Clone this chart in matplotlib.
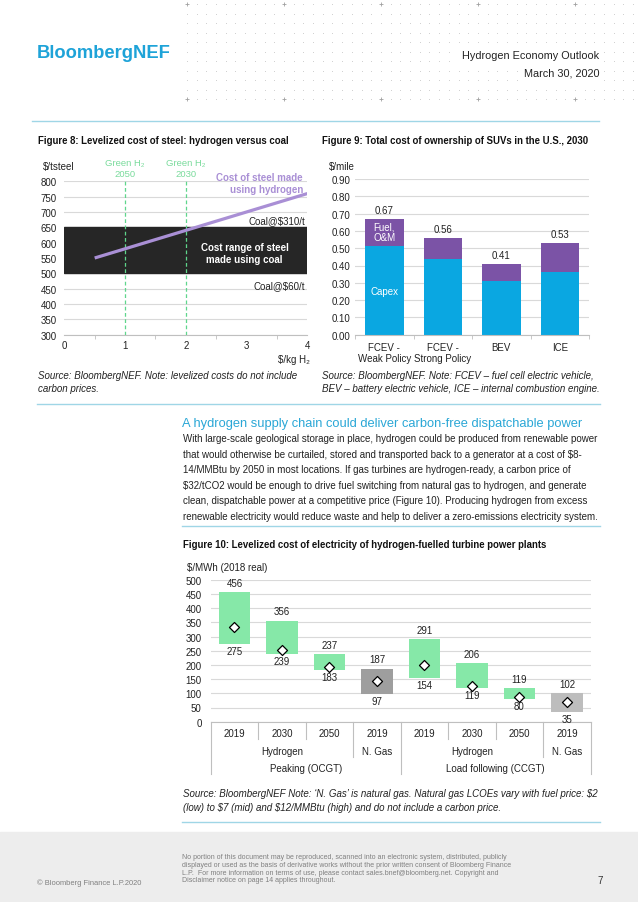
import numpy as np
import matplotlib
matplotlib.use('Agg')
import matplotlib.pyplot as plt
from matplotlib.patches import Rectangle

plt.rcParams['font.family'] = ['Liberation Sans', 'DejaVu Sans']

###### Data ######
# Figure 8 - steel cost vs hydrogen price
h2_price = [0.5, 1, 2, 3, 4]
steel_h2 = [550, 580, 640, 700, 760]
coal_low, coal_high = 500, 650
green_h2_x = [1, 2]
green_h2_lbl = ['Green H\u2082\n2050', 'Green H\u2082\n2030']

# Figure 9 - SUV total cost of ownership
suv_cats = ['FCEV -\nWeak Policy', 'FCEV -\nStrong Policy', 'BEV', 'ICE']
suv_capex = [0.51, 0.44, 0.31, 0.36]
suv_fuel = [0.16, 0.12, 0.10, 0.17]

# Figure 10 - LCOE of turbine plants
lcoe_years = ['2019', '2030', '2050', '2019', '2019', '2030', '2050', '2019']
lcoe_fuel = ['Hydrogen', 'N. Gas', 'Hydrogen', 'N. Gas']
lcoe_mode = ['Peaking (OCGT)', 'Load following (CCGT)']
lcoe_low = [275, 239, 183, 97, 154, 119, 80, 35]
lcoe_high = [456, 356, 237, 187, 291, 206, 119, 102]
lcoe_mid = [333, 251, 192, 142, 200, 127, 86, 70]

body_lines = [
    'With large-scale geological storage in place, hydrogen could be produced from renewable power',
    'that would otherwise be curtailed, stored and transported back to a generator at a cost of \\$8-',
    '14/MMBtu by 2050 in most locations. If gas turbines are hydrogen-ready, a carbon price of',
    '\\$32/tCO2 would be enough to drive fuel switching from natural gas to hydrogen, and generate',
    'clean, dispatchable power at a competitive price (Figure 10). Producing hydrogen from excess',
    'renewable electricity would reduce waste and help to deliver a zero-emissions electricity system.',
]
disclaimer = [
    'No portion of this document may be reproduced, scanned into an electronic system, distributed, publicly',
    'displayed or used as the basis of derivative works without the prior written consent of Bloomberg Finance',
    'L.P.  For more information on terms of use, please contact sales.bnef@bloomberg.net. Copyright and',
    'Disclaimer notice on page 14 applies throughout.',
]

###### Styles ######
W, H = 638, 903
CYAN_LINE = '#9fd6e6'
GRID = '#d9d9d9'
TXT = '#222222'
bar_colors = ['#86e8a8'] * 3 + ['#9e9e9e'] + ['#86e8a8'] * 3 + ['#bdbdbd']

fig = plt.figure(figsize=(W / 100, H / 100), dpi=100)

# page layer in pixel coords
page = fig.add_axes([0, 0, 1, 1], zorder=-1)
page.set_xlim(0, W)
page.set_ylim(H, 0)
page.axis('off')


def px_axes(l, t, r, b):
    return fig.add_axes([l / W, 1 - b / H, (r - l) / W, (b - t) / H])


def hline(y, x0, x1):
    page.plot([x0, x1], [y, y], color=CYAN_LINE, lw=1)


# header
gx = np.arange(187, W, 9.7)
gy = np.arange(5, 101, 9.5)
GX, GY = np.meshgrid(gx, gy)
page.scatter(GX.ravel(), GY.ravel(), s=0.5, color='#cfcfcf', linewidths=0)
page.scatter(GX[[0, -1], ::10].ravel(), GY[[0, -1], ::10].ravel(), s=6, marker='+',
             color='#a0a0a0', linewidths=0.6)
page.text(37, 53, 'BloombergNEF', fontsize=13.2, fontweight='bold', color='#1ea3d8', va='center')
hdr_box = dict(facecolor='white', edgecolor='none', pad=3)
page.text(599, 55.7, 'Hydrogen Economy Outlook', ha='right', va='center', fontsize=7.8,
          color=TXT, bbox=hdr_box)
page.text(599, 73.3, 'March 30, 2020', ha='right', va='center', fontsize=7.8, color=TXT,
          bbox=hdr_box)
hline(121.7, 32, 599)

# titles and sources
title_kw = dict(fontsize=6.9, fontweight='bold', va='center', color='#111111')
src_kw = dict(fontsize=7.0, style='italic', va='center', color=TXT)
page.text(38, 140.7, 'Figure 8: Levelized cost of steel: hydrogen versus coal', **title_kw)
page.text(322, 140.7, 'Figure 9: Total cost of ownership of SUVs in the U.S., 2030', **title_kw)
page.text(38, 376.5, 'Source: BloombergNEF. Note: levelized costs do not include', **src_kw)
page.text(38, 389.5, 'carbon prices.', **src_kw)
page.text(322, 376.5, 'Source: BloombergNEF. Note: FCEV \u2013 fuel cell electric vehicle,', **src_kw)
page.text(322, 389.5, 'BEV \u2013 battery electric vehicle, ICE \u2013 internal combustion engine.', **src_kw)
hline(405, 37, 600)

page.text(182, 424, 'A hydrogen supply chain could deliver carbon-free dispatchable power',
          fontsize=9.3, color='#2aa7d6', va='center')
for i, line in enumerate(body_lines):
    page.text(183, 439 + i * 15.6, line, fontsize=7.0, color=TXT, va='center')
hline(527, 182, 600)

page.text(183, 545, 'Figure 10: Levelized cost of electricity of hydrogen-fuelled turbine power plants',
          **title_kw)
page.text(183, 794.3, 'Source: BloombergNEF Note: \u2018N. Gas\u2019 is natural gas. Natural gas LCOEs vary '
          'with fuel price: \\$2', **src_kw)
page.text(183, 807.7, '(low) to \\$7 (mid) and \\$12/MMBtu (high) and do not include a carbon price.',
          **src_kw)
hline(823.3, 182, 600)

# footer
page.add_patch(Rectangle((0, 833), W, H - 833, color='#ededed', zorder=0))
page.text(37, 883, '\u00a9 Bloomberg Finance L.P.2020', fontsize=5.4, color='#7f7f7f', va='center')
for i, line in enumerate(disclaimer):
    page.text(182, 857.7 + i * 7.7, line, fontsize=5.0, color='#7f7f7f', va='center')
page.text(597, 881, '7', fontsize=7, color='#333333', va='center')

###### Figure 8 ######
ax8 = px_axes(64.3, 182.3, 307.3, 335.7)
ax8.set_xlim(0, 4)
ax8.set_ylim(300, 800)
ax8.set_yticks(range(300, 801, 50))
ax8.set_xticks(range(0, 5))
ax8.set_xticks(np.arange(0.5, 4, 1), minor=True)
ax8.grid(axis='y', color=GRID, lw=0.8, zorder=0)
ax8.set_axisbelow(True)
for s in ['top', 'right', 'left']:
    ax8.spines[s].set_visible(False)
ax8.spines['bottom'].set_color('#bfbfbf')
ax8.tick_params(axis='y', length=0, pad=5.5, labelsize=7, labelcolor=TXT)
ax8.tick_params(axis='x', which='major', length=0, pad=4, labelsize=7, labelcolor=TXT)
ax8.tick_params(axis='x', which='minor', length=3, color='#bfbfbf')
ax8.axhspan(coal_low, coal_high, color='#262626', zorder=2)
for x, lbl in zip(green_h2_x, green_h2_lbl):
    ax8.axvline(x, color='#5fd68c', ls=(0, (3, 2)), lw=0.9, zorder=3)
    ax8.text(x, 812, lbl, ha='center', va='bottom', color='#7adb9c', fontsize=6.8,
             linespacing=1.25, clip_on=False)
ax8.plot(h2_price, steel_h2, color='#a98fd5', lw=2.3, zorder=4, solid_capstyle='butt')
ax8.text(3.93, 795, 'Cost of steel made\nusing hydrogen', ha='right', va='center',
         color='#a98fd5', fontsize=7, fontweight='bold', linespacing=1.2, clip_on=False)
ax8.text(3.97, 675, 'Coal@\\$310/t', ha='right', va='center', fontsize=7, color=TXT)
ax8.text(3.97, 462, 'Coal@\\$60/t', ha='right', va='center', fontsize=7, color=TXT)
ax8.text(2.97, 566, 'Cost range of steel\nmade using coal', ha='center', va='center',
         color='white', fontsize=7, fontweight='bold', linespacing=1.25, zorder=5)
page.text(42.5, 166.7, '\\$/tsteel', fontsize=7, va='center', color=TXT)
page.text(310, 360, '\\$/kg H\u2082', fontsize=7, va='center', ha='right', color=TXT)

###### Figure 9 ######
ax9 = px_axes(355, 180, 589.3, 335.7)
x9 = np.arange(len(suv_cats))
ax9.bar(x9, suv_capex, width=0.66, color='#0aa7e1', zorder=2)
ax9.bar(x9, suv_fuel, width=0.66, bottom=suv_capex, color='#7b53a6', zorder=2)
for i in x9:
    tot = suv_capex[i] + suv_fuel[i]
    ax9.annotate('%.2f' % tot, (i, tot), xytext=(0, 3), textcoords='offset points',
                 ha='center', va='bottom', fontsize=7, color=TXT)
ax9.text(0, 0.595, 'Fuel,\nO&M', ha='center', va='center', color='white', fontsize=7,
         linespacing=1.15, zorder=3)
ax9.text(0, 0.254, 'Capex', ha='center', va='center', color='white', fontsize=7, zorder=3)
ax9.set_xlim(-0.5, 3.5)
ax9.set_ylim(0, 0.9)
ax9.set_yticks(np.arange(0, 0.91, 0.1))
ax9.set_yticklabels(['%.2f' % v for v in np.arange(0, 0.91, 0.1)])
ax9.set_xticks(x9)
ax9.set_xticklabels(suv_cats)
ax9.set_xticks(np.arange(-0.5, 3.6, 1), minor=True)
ax9.grid(axis='y', color=GRID, lw=0.8, zorder=0)
ax9.set_axisbelow(True)
for s in ['top', 'right', 'left']:
    ax9.spines[s].set_visible(False)
ax9.spines['bottom'].set_color('#bfbfbf')
ax9.tick_params(axis='y', length=0, pad=3, labelsize=7, labelcolor=TXT)
ax9.tick_params(axis='x', which='major', length=0, pad=5, labelsize=7, labelcolor=TXT)
ax9.tick_params(axis='x', which='minor', length=3, color='#bfbfbf')
for lab in ax9.get_xticklabels():
    lab.set_linespacing(1.15)
page.text(329, 166.7, '\\$/mile', fontsize=7, va='center', color=TXT)

###### Figure 10 ######
ax10 = px_axes(210.7, 580.7, 590.7, 722.7)
x10 = np.arange(len(lcoe_years))
span = np.array(lcoe_high) - np.array(lcoe_low)
ax10.bar(x10, span, bottom=lcoe_low, width=0.67, color=bar_colors, zorder=2)
ax10.scatter(x10, lcoe_mid, marker='D', s=26, facecolor='white', edgecolor='black',
             linewidths=0.9, zorder=4)
for i in x10:
    ax10.annotate(str(lcoe_high[i]), (i, lcoe_high[i]), xytext=(0, 3), textcoords='offset points',
                  ha='center', va='bottom', fontsize=7, color=TXT)
    ax10.annotate(str(lcoe_low[i]), (i, lcoe_low[i]), xytext=(0, -1.5), textcoords='offset points',
                  ha='center', va='top', fontsize=7, color=TXT, zorder=5)
ax10.set_xlim(-0.5, len(x10) - 0.5)
ax10.set_ylim(0, 500)
ax10.set_yticks(range(0, 501, 50))
ax10.set_xticks([])
ax10.grid(axis='y', color=GRID, lw=0.8, zorder=0)
ax10.set_axisbelow(True)
for s in ['top', 'right', 'left']:
    ax10.spines[s].set_visible(False)
ax10.spines['bottom'].set_color('#bfbfbf')
ax10.tick_params(axis='y', length=0, pad=6.5, labelsize=7, labelcolor=TXT)

# category table under the axis
xt = ax10.get_xaxis_transform()
n = len(x10)
for b in np.arange(-0.5, n, 1):
    if b in (-0.5, n / 2 - 0.5, n - 0.5):
        depth = -0.367
    elif b in (n / 2 - 1.5, n - 1.5):
        depth = -0.246
    else:
        depth = -0.122
    ax10.plot([b, b], [0, depth], transform=xt, clip_on=False, color='#bfbfbf', lw=0.8)
for i, yr in enumerate(lcoe_years):
    ax10.text(i, -0.08, yr, transform=xt, ha='center', va='center', fontsize=7, color=TXT)
fuel_pos = [1, 3, 5, 7]
for p, lbl in zip(fuel_pos, lcoe_fuel):
    ax10.text(p, -0.204, lbl, transform=xt, ha='center', va='center', fontsize=7, color=TXT)
for p, lbl in zip([1.5, 5.5], lcoe_mode):
    ax10.text(p, -0.324, lbl, transform=xt, ha='center', va='center', fontsize=7, color=TXT)
page.text(187, 567.7, '\\$/MWh (2018 real)', fontsize=7, va='center', color=TXT)

fig.savefig('out.png', dpi=100)
